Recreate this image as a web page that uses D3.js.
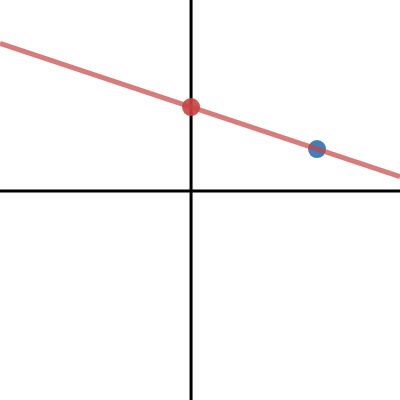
<!DOCTYPE html>
<html>
<head>
<meta charset="utf-8">
<script src="https://cdn.jsdelivr.net/npm/d3@7"></script>
<style>
  html, body { margin: 0; padding: 0; background: #fff; }
  svg { display: block; }
</style>
</head>
<body>
<svg id="chart"></svg>
<script>
// graph window (math units)
const xDomain = [-4.55, 4.976];
const yDomain = [-4.976, 4.55];

// line y = m*x + b
const lineSlope = [-1 / 3];
const lineIntercept = [2];

// points
const pointX = [3, 0];
const pointY = [1, 2];
const pointColor = ["#2d70b3", "#c74440"];

const width = 400;
const height = 400;

const svg = d3.select("#chart").attr("width", width).attr("height", height);

const x = d3.scaleLinear().domain(xDomain).range([0, width]);
const y = d3.scaleLinear().domain(yDomain).range([height, 0]);

// axes
svg.append("line")
  .attr("x1", 0).attr("x2", width)
  .attr("y1", y(0)).attr("y2", y(0))
  .attr("stroke", "#000").attr("stroke-width", 3);
svg.append("line")
  .attr("x1", x(0)).attr("x2", x(0))
  .attr("y1", 0).attr("y2", height)
  .attr("stroke", "#000").attr("stroke-width", 3);

// blue point under the line
svg.append("circle")
  .attr("cx", x(pointX[0])).attr("cy", y(pointY[0]))
  .attr("r", 9)
  .attr("fill", pointColor[0]).attr("fill-opacity", 0.9);

const line = d3.line().x(d => x(d)).y(d => y(lineSlope[0] * d + lineIntercept[0]));
svg.append("path")
  .datum(xDomain)
  .attr("d", line)
  .attr("fill", "none")
  .attr("stroke", "#c74440")
  .attr("stroke-opacity", 0.7)
  .attr("stroke-width", 5);

// red point on top
svg.append("circle")
  .attr("cx", x(pointX[1])).attr("cy", y(pointY[1]))
  .attr("r", 9)
  .attr("fill", pointColor[1]).attr("fill-opacity", 0.9);
</script>
</body>
</html>
